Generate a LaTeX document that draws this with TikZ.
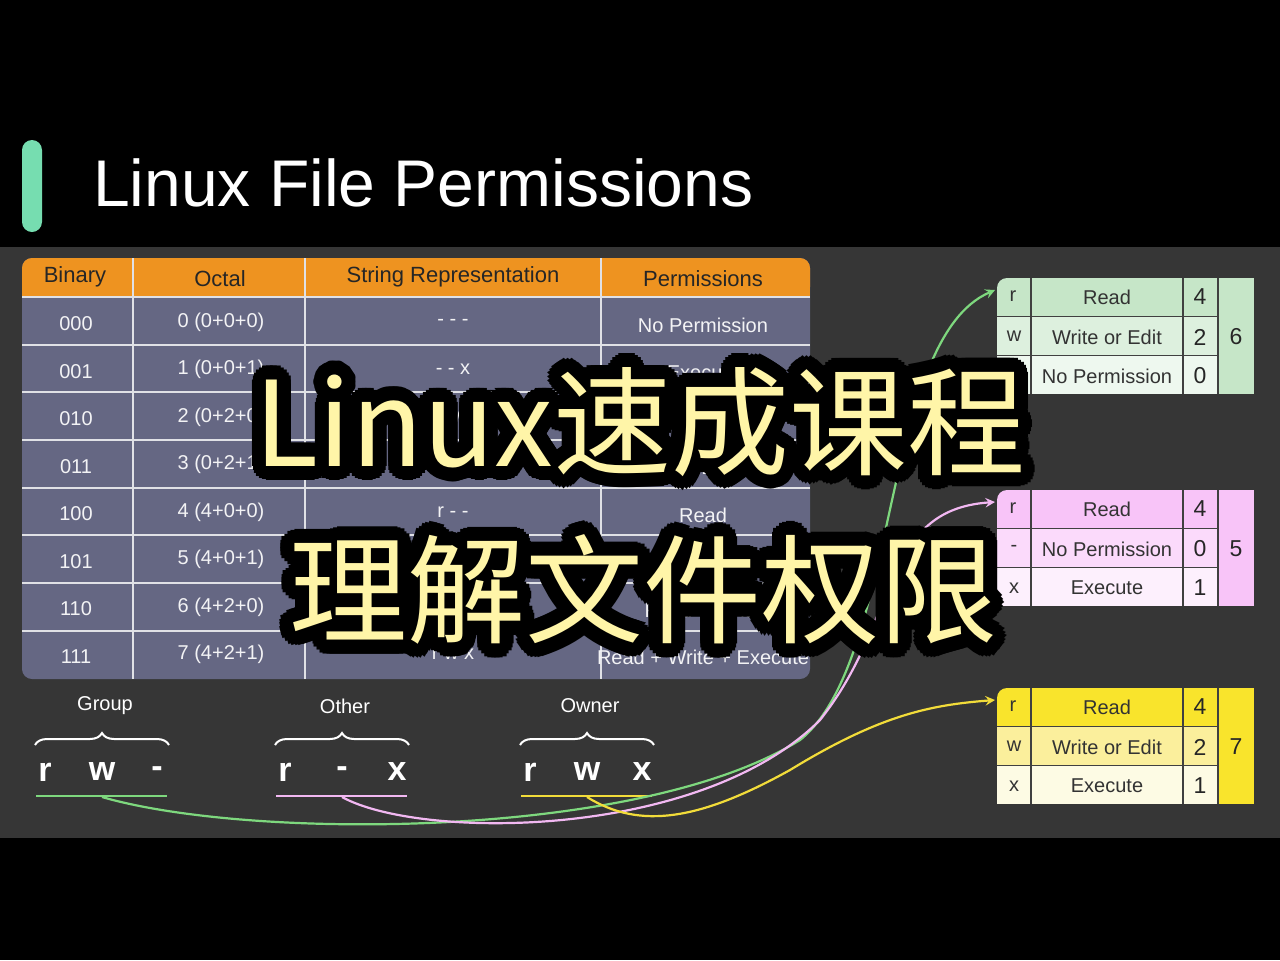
\documentclass[tikz,border=0pt]{standalone}
\usepackage{fontspec}
\setmainfont{Liberation Sans}
\newfontfamily\cjk{Noto Sans CJK SC}
\usetikzlibrary{calc,positioning,decorations.pathreplacing}
\definecolor{band}{HTML}{363636}
\definecolor{slate}{HTML}{656783}
\definecolor{orangehd}{HTML}{EE9320}
\definecolor{mint}{HTML}{76DDB0}
\definecolor{gA}{HTML}{C6E6C8}\definecolor{gB}{HTML}{DDF0DE}\definecolor{gC}{HTML}{EEF8EF}
\definecolor{pA}{HTML}{F8C4F8}\definecolor{pB}{HTML}{FBDAFB}\definecolor{pC}{HTML}{FDF0FD}
\definecolor{yA}{HTML}{F9E42C}\definecolor{yB}{HTML}{FBEF9C}\definecolor{yC}{HTML}{FDFBE4}
\definecolor{gline}{HTML}{7ED87E}\definecolor{pline}{HTML}{F2B8F2}\definecolor{yline}{HTML}{F2DC3A}
\definecolor{capyel}{HTML}{FFF5A8}
\begin{document}
\begin{tikzpicture}[x=0.5pt,y=-0.5pt,>=stealth,
		cell/.style={draw=white!80!slate,line width=0.8pt},
		txt/.style={text=white!92!slate,font=\fontsize{10}{12}\selectfont},
		hd/.style={text=black!85,font=\fontsize{11}{13}\selectfont},
		pcell/.style={draw=black!75,line width=0.8pt},
		ptxt/.style={text=black!80,font=\fontsize{10}{12}\selectfont},
		pnum/.style={text=black!85,font=\fontsize{11.5}{13}\selectfont},
		bits/.style={text=white!90,font=\fontsize{17}{20}\selectfont\bfseries},
		who/.style={text=white!90,font=\fontsize{10}{12}\selectfont},
		brc/.style={draw=white!90,line width=1pt,decorate,decoration={brace,amplitude=6pt}},
		flow/.style={->,line width=1.1pt},
		capfont/.style={font=\cjk\fontsize{59}{64}\selectfont}]
		\useasboundingbox (0,0) rectangle (1280,960);
		\fill[black] (0,0) rectangle (1280,960);
		\fill[band] (0,247) rectangle (1280,838);
		
		% title
		\fill[mint,rounded corners=5pt] (22,140) rectangle (42,232);
		\node[anchor=base west,text=white,font=\fontsize{33}{36}\selectfont] (title) at (86,206) {Linux File Permissions};
		
		% big table
		\fill[slate,rounded corners=5pt] (22,258) rectangle (810,679);
		\fill[orangehd,rounded corners=5pt] (22,258) rectangle (810,297);
		\fill[orangehd] (22,280) rectangle (810,297);
		\foreach \xx in {133,305,601} \draw[cell] (\xx,258) -- (\xx,679);
		\foreach \yy in {297,345,392,440,488,535,583,631} \draw[cell] (22,\yy) -- (810,\yy);
		\node[hd] (hbin) at (75,277) {Binary};
		\node[hd] (hoct) at (220,279) {Octal};
		\node[hd] (hstr) at (453,277) {String Representation};
		\node[hd] (hper) at (703,279) {Permissions};
		\foreach \i/\b/\o/\s/\p in {0/000/0 (0+0+0)/- - -/No Permission,
			1/001/1 (0+0+1)/- - x/Execute,
			2/010/2 (0+2+0)/- w -/Write,
			3/011/3 (0+2+1)/- w x/Write + Execute,
			4/100/4 (4+0+0)/r - -/Read,
			5/101/5 (4+0+1)/r - x/Read + Execute,
			6/110/6 (4+2+0)/r w -/Read + Write,
			7/111/7 (4+2+1)/r w x/Read + Write + Execute}
		{
			\node[txt] (bin\i) at (76,324+47.5*\i) {\b};
			\node[txt] (oct\i) at (221,322+47.5*\i) {\o};
			\node[txt] (str\i) at (453,322+47.5*\i) {\s};
			\node[txt] (per\i) at (703,325+47.5*\i) {\p};
		}
		
		% permission blocks
		\foreach \nm/\tp/\ca/\cb/\cc/\la/\lb/\lc/\da/\db/\dc/\na/\nb/\nc/\tot in {
			grp/278/gA/gB/gC/r/w/-/Read/Write or Edit/No Permission/4/2/0/6,
			oth/490/pA/pB/pC/r/-/x/Read/No Permission/Execute/4/0/1/5,
			own/688/yA/yB/yC/r/w/x/Read/Write or Edit/Execute/4/2/1/7}
		{
			\fill[\ca,rounded corners=5pt] (997,\tp) rectangle (1183,\tp+38);
			\fill[\ca] (1010,\tp) rectangle (1183,\tp+38);
			\fill[\ca] (997,\tp+10) rectangle (1183,\tp+38);
			\fill[\cb] (997,\tp+39) rectangle (1183,\tp+77);
			\fill[\cc] (997,\tp+78) rectangle (1183,\tp+116);
			\fill[\ca] (1183,\tp) rectangle (1218,\tp+38);
			\fill[\cb] (1183,\tp+39) rectangle (1218,\tp+77);
			\fill[\cc] (1183,\tp+78) rectangle (1218,\tp+116);
			\fill[\ca] (1218,\tp) rectangle (1254,\tp+116);
			\draw[pcell] (1031,\tp) -- (1031,\tp+116) (1183,\tp) -- (1183,\tp+116) (1218,\tp) -- (1218,\tp+116)
			(997,\tp+38.5) -- (1218,\tp+38.5) (997,\tp+77.5) -- (1218,\tp+77.5);
			\node[ptxt] (\nm l1) at (1013,\tp+18) {\la};
			\node[ptxt] (\nm l2) at (1014,\tp+58) {\lb};
			\node[ptxt] (\nm l3) at (1014,\tp+98) {\lc};
			\node[ptxt] (\nm d1) at (1107,\tp+19) {\da};
			\node[ptxt] (\nm d2) at (1107,\tp+59) {\db};
			\node[ptxt] (\nm d3) at (1107,\tp+98) {\dc};
			\node[pnum] (\nm n1) at (1200,\tp+19) {\na};
			\node[pnum] (\nm n2) at (1200,\tp+59) {\nb};
			\node[pnum] (\nm n3) at (1200,\tp+98) {\nc};
			\node[pnum] (\nm sum) at (1236,\tp+59) {\tot};
			\coordinate (\nm in) at (995,\tp+12);
		}
		
		% rwx strings
		\foreach \nm/\lab/\x/\a/\b/\c/\col in {grp/Group/102/r/w/-/gline,
			oth/Other/342/r/-/x/pline,
			own/Owner/587/r/w/x/yline}
		{
			\node[who] (\nm lab) at (\x+3,706) {\lab};
			\draw[brc] (\x-67,745) -- (\x+67,745);
			\node[bits] (\nm a) at (\x-57,772) {\a};
			\node[bits] (\nm b) at (\x,772) {\b};
			\node[bits] (\nm c) at (\x+55,772) {\c};
			\draw[\col,line width=1.3pt] (\x-66,796) -- (\x+65,796);
			\coordinate (\nm out) at (\x,797);
		}
		
		\draw[flow,gline] (grpout) .. controls (250,840) and (640,840) .. (800,740)
			.. controls (900,660) and (880,340) .. (grpin);
		\draw[flow,pline] (othout) .. controls (420,840) and (700,840) .. (820,720)
			.. controls (900,620) and (880,510) .. (othin);
		\draw[flow,yline] (ownout) .. controls (640,830) and (700,820) .. (790,770)
			.. controls (880,715) and (930,705) .. (ownin);
		
		% caption overlay
		\foreach \a in {0,15,...,345}
		{
			\node[capfont,text=black] at ($(640,422)+(\a:7pt)$) {Linux速成课程};
			\node[capfont,text=black] at ($(643,590)+(\a:7pt)$) {理解文件权限};
		}
		\node[capfont,text=capyel] (cap1) at (640,422) {Linux速成课程};
		\node[capfont,text=capyel] (cap2) at (643,590) {理解文件权限};
\end{tikzpicture}
\end{document}
